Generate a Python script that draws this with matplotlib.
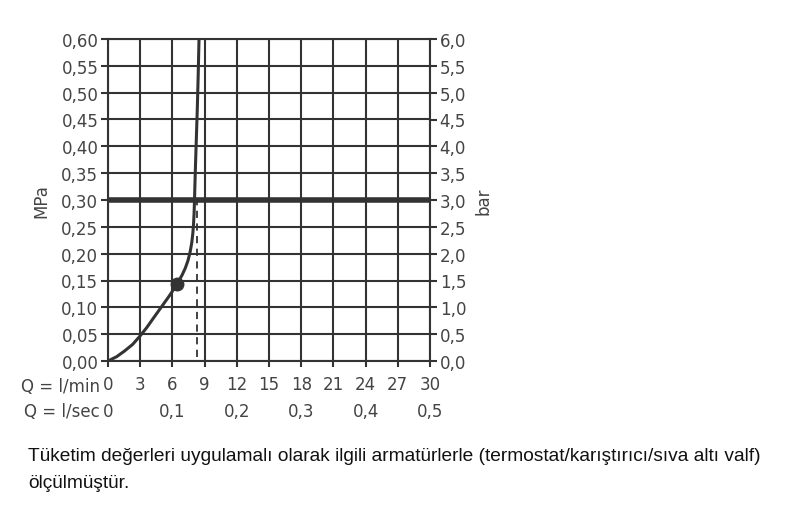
import matplotlib
matplotlib.use("Agg")
import matplotlib.pyplot as plt

# flow (l/min) vs pressure (MPa)
flow_lmin = [0, 0.8, 1.5, 2.3, 3.0, 3.6, 4.2, 4.7, 5.2, 5.7, 6.1, 6.5, 6.9, 7.2, 7.45, 7.65,
             7.8, 7.9, 7.97, 8.02, 8.06, 8.1, 8.16, 8.24, 8.32, 8.4, 8.48]
pressure = [0, 0.008, 0.018, 0.031, 0.047, 0.062, 0.079, 0.093, 0.107, 0.121, 0.133, 0.146,
            0.16, 0.173, 0.187, 0.203, 0.22, 0.237, 0.255, 0.275, 0.30, 0.33, 0.37, 0.42, 0.47, 0.53, 0.60]
marker_pt = (6.4, 0.143)
max_flow = 8.25
ref_pressure = 0.30

mpa_ticks = [0.00, 0.05, 0.10, 0.15, 0.20, 0.25, 0.30, 0.35, 0.40, 0.45, 0.50, 0.55, 0.60]
lmin_ticks = [0, 3, 6, 9, 12, 15, 18, 21, 24, 27, 30]
lsec_labels = ['0', '0,1', '0,2', '0,3', '0,4', '0,5']
lsec_pos = [0, 6, 12, 18, 24, 30]
caption = ("Tüketim değerleri uygulamalı olarak ilgili armatürlerle (termostat/karıştırıcı/sıva altı valf)\n"
           "ölçülmüştür.")

ink = '#333333'
txt = '#444444'

fig = plt.figure(figsize=(8, 5.1), dpi=100)
ax = fig.add_axes([108/800, 1-362/510, 322/800, 322/510])

ax.set_xlim(0, 30)
ax.set_ylim(0, 0.6)
ax.set_xticks(lmin_ticks)
ax.set_yticks(mpa_ticks)
ax.grid(True, color=ink, linewidth=1.5)
ax.set_axisbelow(True)
for s in ax.spines.values():
    s.set_color(ink)
    s.set_linewidth(1.5)

ax.set_yticklabels([f"{v:.2f}".replace('.', ',') for v in mpa_ticks])
ax.tick_params(axis='y', length=5, width=1.5, color=ink, labelsize=12, labelcolor=txt, pad=2)
ax.tick_params(axis='x', length=4, width=1.5, color=ink, labelsize=12, labelcolor=txt, pad=6)
ax.set_xticklabels([str(v) for v in lmin_ticks])

ax2 = ax.twinx()
ax2.set_ylim(0, 6)
ax2.set_yticks([v * 10 for v in mpa_ticks])
ax2.set_yticklabels([f"{v*10:.1f}".replace('.', ',') for v in mpa_ticks])
ax2.tick_params(axis='y', length=5, width=1.5, color=ink, labelsize=12, labelcolor=txt, pad=2)
for s in ax2.spines.values():
    s.set_visible(False)

ax.axhline(ref_pressure, color=ink, linewidth=4, zorder=3)
ax.plot([max_flow, max_flow], [0.007, ref_pressure], color=ink, linewidth=1.3,
        linestyle=(0, (4, 3)), zorder=3)
ax.plot(flow_lmin, pressure, color=ink, linewidth=2.2, zorder=4,
        solid_capstyle='round', solid_joinstyle='round')
ax.plot(*marker_pt, 'o', color=ink, markersize=9, zorder=5)

ax.set_ylabel('MPa', fontsize=12, color=txt, labelpad=8)
ax2.set_ylabel('bar', fontsize=12, color=txt, labelpad=6, rotation=90)

# flow labels row captions and l/sec row
fig.text(100/800, 1-387/510, 'Q = l/min', ha='right', va='center', fontsize=12, color=txt)
fig.text(100/800, 1-412/510, 'Q = l/sec', ha='right', va='center', fontsize=12, color=txt)
for p, lab in zip(lsec_pos, lsec_labels):
    ax.text(p, -0.094, lab, ha='center', va='center', fontsize=12, color=txt,
            transform=ax.transData, clip_on=False)

fig.text(28/800, 1-448/510, caption, ha='left', va='top', fontsize=13.8,
         family='Liberation Sans', color='#111111', linespacing=1.75)

fig.savefig('out.png', dpi=100)
